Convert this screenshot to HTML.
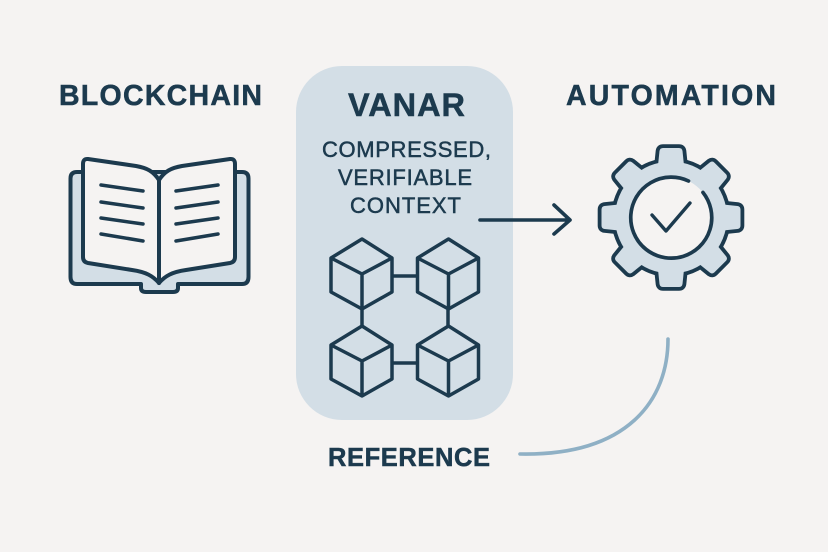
<!DOCTYPE html>
<html><head><meta charset="utf-8"><style>
html,body{margin:0;padding:0;background:#f5f3f2}
svg{display:block}
text{font-family:"Liberation Sans",sans-serif;fill:#1c3a4e}
.b{font-weight:bold;stroke:#1c3a4e;stroke-width:.5}
.m{stroke:#1c3a4e;stroke-width:.5}
</style></head><body>
<svg width="828" height="552" viewBox="0 0 828 552" xmlns="http://www.w3.org/2000/svg">
<rect width="828" height="552" fill="#f5f3f2"/>
<rect x="296" y="66" width="217" height="354" rx="46" fill="#d3dee6"/>

<text class="b" x="59" y="105" font-size="28.500" textLength="203" lengthAdjust="spacing">BLOCKCHAIN</text>
<text class="b" x="566" y="105" font-size="28.500" textLength="210" lengthAdjust="spacing">AUTOMATION</text>
<text class="b" x="348" y="116" font-size="32.500" textLength="117" lengthAdjust="spacing">VANAR</text>
<text class="m" x="322" y="157" font-size="22" textLength="169" lengthAdjust="spacing">COMPRESSED,</text>
<text class="m" x="338" y="185" font-size="22" textLength="134" lengthAdjust="spacing">VERIFIABLE</text>
<text class="m" x="350" y="213" font-size="22" textLength="111" lengthAdjust="spacing">CONTEXT</text>
<text class="b" x="328" y="466" font-size="25.500" textLength="162" lengthAdjust="spacing">REFERENCE</text>

<!-- Book -->
<g stroke="#1c3a4e" stroke-width="4" stroke-linecap="round" stroke-linejoin="round">
<path d="M77 172Q70.500 172 70.500 178.500V277Q70.500 284 77 284H141V288Q141 292 146 292H173Q178 292 178 288V284H242Q248.500 284 248.500 277V178.500Q248.500 172 242 172Z" fill="#d3dee6"/>
<path d="M159 180C153 171 147 168 136 166L88 159Q83 158.500 83 164V257Q83 262 88 263L132 270C146 272 153 276 159 283C165 276 172 272 186 270L230 263Q235 262 235 257V164Q235 158.500 230 159L182 166C171 168 165 171 159 180Z" fill="#f5f3f2"/>
<path d="M159 180V283" fill="none"/>
<path d="M101 185L143 191M101 202L143 208M101 218L143 224M101 234L143 241M176 191L218 185M176 208L218 202M176 224L218 218M176 241L218 234" fill="none" stroke-width="3.500"/>
</g>

<!-- Cubes -->
<defs>
<g id="c" fill="none">
<path d="M362 239L392 258V292L362 309L331 292V258Z"/>
<path d="M331 258L362 274L392 258M362 274V309"/>
</g>
</defs>
<g stroke="#1c3a4e" stroke-width="3.500" stroke-linejoin="round" fill="none">
<path d="M392 276H417M392 363H417M362 309V326M448 309V326"/>
<use href="#c"/>
<use href="#c" x="86.500"/>
<use href="#c" y="87"/>
<use href="#c" x="86.500" y="87"/>
</g>

<!-- Arrow -->
<path d="M480 220H570M554 205L570 220L554 234" fill="none" stroke="#1c3a4e" stroke-width="3.600" stroke-linecap="round" stroke-linejoin="round"/>

<!-- Gear -->
<defs>
<path id="t" d="M-13 -52L-11.500 -66.500Q-11 -69.500 -8 -69.500H8Q11 -69.500 11.500 -66.500L13 -52Z"/>
</defs>
<g transform="translate(671 217.500)">
<g fill="#d3dee6" stroke="#1c3a4e" stroke-width="7.600" stroke-linejoin="round">
<circle r="56"/>
<use href="#t"/><use href="#t" transform="rotate(45)"/><use href="#t" transform="rotate(90)"/><use href="#t" transform="rotate(135)"/>
<use href="#t" transform="rotate(180)"/><use href="#t" transform="rotate(225)"/><use href="#t" transform="rotate(270)"/><use href="#t" transform="rotate(315)"/>
</g>
<g fill="#d3dee6">
<circle r="56"/>
<use href="#t"/><use href="#t" transform="rotate(45)"/><use href="#t" transform="rotate(90)"/><use href="#t" transform="rotate(135)"/>
<use href="#t" transform="rotate(180)"/><use href="#t" transform="rotate(225)"/><use href="#t" transform="rotate(270)"/><use href="#t" transform="rotate(315)"/>
</g>
<circle r="40.500" fill="#f5f3f2"/>
<path d="M17.500 -36.500A40.500 40.500 0 1 0 32 -25" fill="none" stroke="#1c3a4e" stroke-width="3.700" stroke-linecap="round"/>
<path d="M-19 -2.500L-5 13.500L19 -14.500" fill="none" stroke="#1c3a4e" stroke-width="3.400" stroke-linecap="round" stroke-linejoin="round"/>
</g>

<!-- Curve -->
<path d="M668 339C668 400 628 456 520 454" fill="none" stroke="#8fb0c5" stroke-width="3.600" stroke-linecap="round"/>
</svg>
</body></html>
